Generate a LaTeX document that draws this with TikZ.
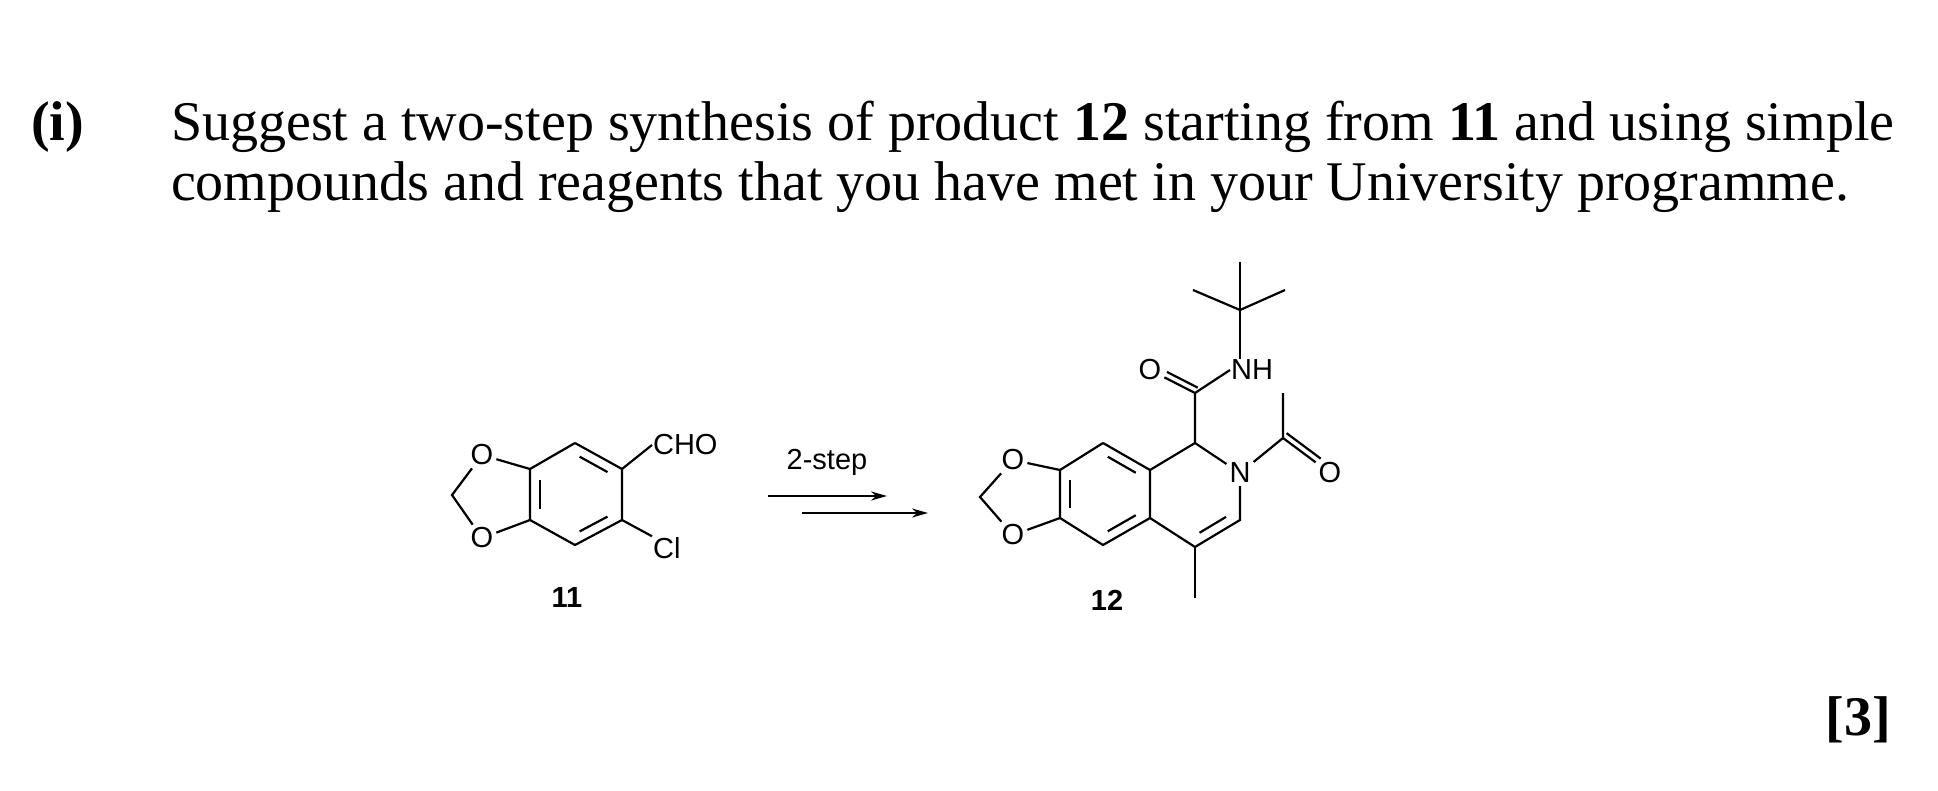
\documentclass[tikz,border=0pt]{standalone}
\usepackage{fontspec}
\setmainfont{Liberation Serif}
\newfontfamily\chem{Liberation Sans}
\usetikzlibrary{calc,arrows.meta}
\begin{document}
\begin{tikzpicture}[x=1pt,y=-1pt,line width=2.2pt,
  atom/.style={font=\chem\fontsize{29}{30}\selectfont,inner sep=2pt},
  lbl/.style={font=\chem\bfseries\fontsize{29}{30}\selectfont},
  txt/.style={font=\fontsize{56}{60}\selectfont,anchor=base west,inner sep=0},
  inr/.style={shorten <=5pt,shorten >=5pt}]
\useasboundingbox (0,0) rectangle (1938,790);
% text
\node[txt,font=\bfseries\fontsize{56}{60}\selectfont] (num) at (30,140) {(i)};
\node[txt] (l1) at (170,140) {Suggest a two-step synthesis of product \textbf{12} starting from \textbf{11} and using simple};
\node[txt] (l2) at (170,200) {compounds and reagents that you have met in your University programme.};
\node[txt,font=\bfseries\fontsize{56}{60}\selectfont,anchor=base east] (mk) at (1892,735) {[3]};
% molecule 11
\coordinate (a1) at (575,443); \coordinate (a2) at (622,469); \coordinate (a3) at (622,520);
\coordinate (a4) at (575,545); \coordinate (a5) at (530,520); \coordinate (a6) at (530,469);
\coordinate (ac) at (576,494); \coordinate (am) at (452,495);
\node[atom] (ao1) at (482,455) {O};
\node[atom] (ao2) at (482,538) {O};
\node[atom,anchor=west,inner sep=0] (acho) at (652,445) {CHO};
\node[atom,anchor=west,inner sep=0] (acl) at (652,548) {Cl};
\draw (a1)--(a2)--(a3)--(a4)--(a5)--(a6)--(a1);
\draw[inr] ($(ac)!0.78!(a6)$)--($(ac)!0.78!(a5)$);
\draw[inr] ($(ac)!0.78!(a1)$)--($(ac)!0.78!(a2)$);
\draw[inr] ($(ac)!0.78!(a3)$)--($(ac)!0.78!(a4)$);
\draw (a6)--(ao1)--(am)--(ao2)--(a5);
\draw (a2)--(acho.west); \draw (a3)--(acl.north west);
\node[lbl] (l11) at (567,598) {11};
% arrows
\coordinate (r1) at (768,496); \coordinate (r2) at (887,496);
\coordinate (r3) at (802,513); \coordinate (r4) at (928,513);
\draw[-{Stealth[length=16pt,width=9pt]}] (r1)--(r2);
\draw[-{Stealth[length=16pt,width=9pt]}] (r3)--(r4);
\node[atom] (st) at (827,462) {2-step};
% molecule 12
\coordinate (b1) at (1103,443); \coordinate (b2) at (1150,470); \coordinate (b3) at (1150,518);
\coordinate (b4) at (1103,545); \coordinate (b5) at (1060,518); \coordinate (b6) at (1060,470);
\coordinate (bc) at (1105,494); \coordinate (bm) at (980,497);
\node[atom] (bo1) at (1013,460) {O};
\node[atom] (bo2) at (1013,535) {O};
\coordinate (c1) at (1195,443); \node[atom] (n) at (1240,473) {N};
\coordinate (c3) at (1240,520); \coordinate (c4) at (1195,547); \coordinate (me) at (1195,598);
\coordinate (pc) at (1196,494);
\coordinate (cc) at (1195,393);
\node[atom] (oa) at (1150,370) {O};
\node[atom,anchor=west,inner sep=0] (nh) at (1230,370) {NH};
\coordinate (tb) at (1240,310); \coordinate (t1) at (1240,262); \coordinate (t2) at (1193,290); \coordinate (t3) at (1285,290);
\coordinate (ak) at (1283,438); \coordinate (am2) at (1283,393);
\node[atom] (ob) at (1330,473) {O};
\draw (b1)--(b2)--(b3)--(b4)--(b5)--(b6)--(b1);
\draw[inr] ($(bc)!0.78!(b6)$)--($(bc)!0.78!(b5)$);
\draw[inr] ($(bc)!0.78!(b1)$)--($(bc)!0.78!(b2)$);
\draw[inr] ($(bc)!0.78!(b3)$)--($(bc)!0.78!(b4)$);
\draw (b6)--(bo1)--(bm)--(bo2)--(b5);
\draw (b2)--(c1)--(n)--(c3)--(c4)--(b3);
\draw[inr] ($(pc)!0.78!(c3)$)--($(pc)!0.78!(c4)$);
\draw (c4)--(me);
\draw (c1)--(cc)--(nh.west);
\draw (cc)--(oa); \draw[shorten >=16pt] ($(cc)!6pt!-90:(oa)$)--($(oa)!6pt!90:(cc)$);
\draw (nh.north-|tb)--(tb)--(t1); \draw (t2)--(tb)--(t3);
\draw (n)--(ak)--(am2); \draw (ak)--(ob);
\draw[shorten >=16pt] ($(ak)!6pt!90:(ob)$)--($(ob)!6pt!-90:(ak)$);
\node[lbl] (l12) at (1107,600) {12};
\end{tikzpicture}
\end{document}
